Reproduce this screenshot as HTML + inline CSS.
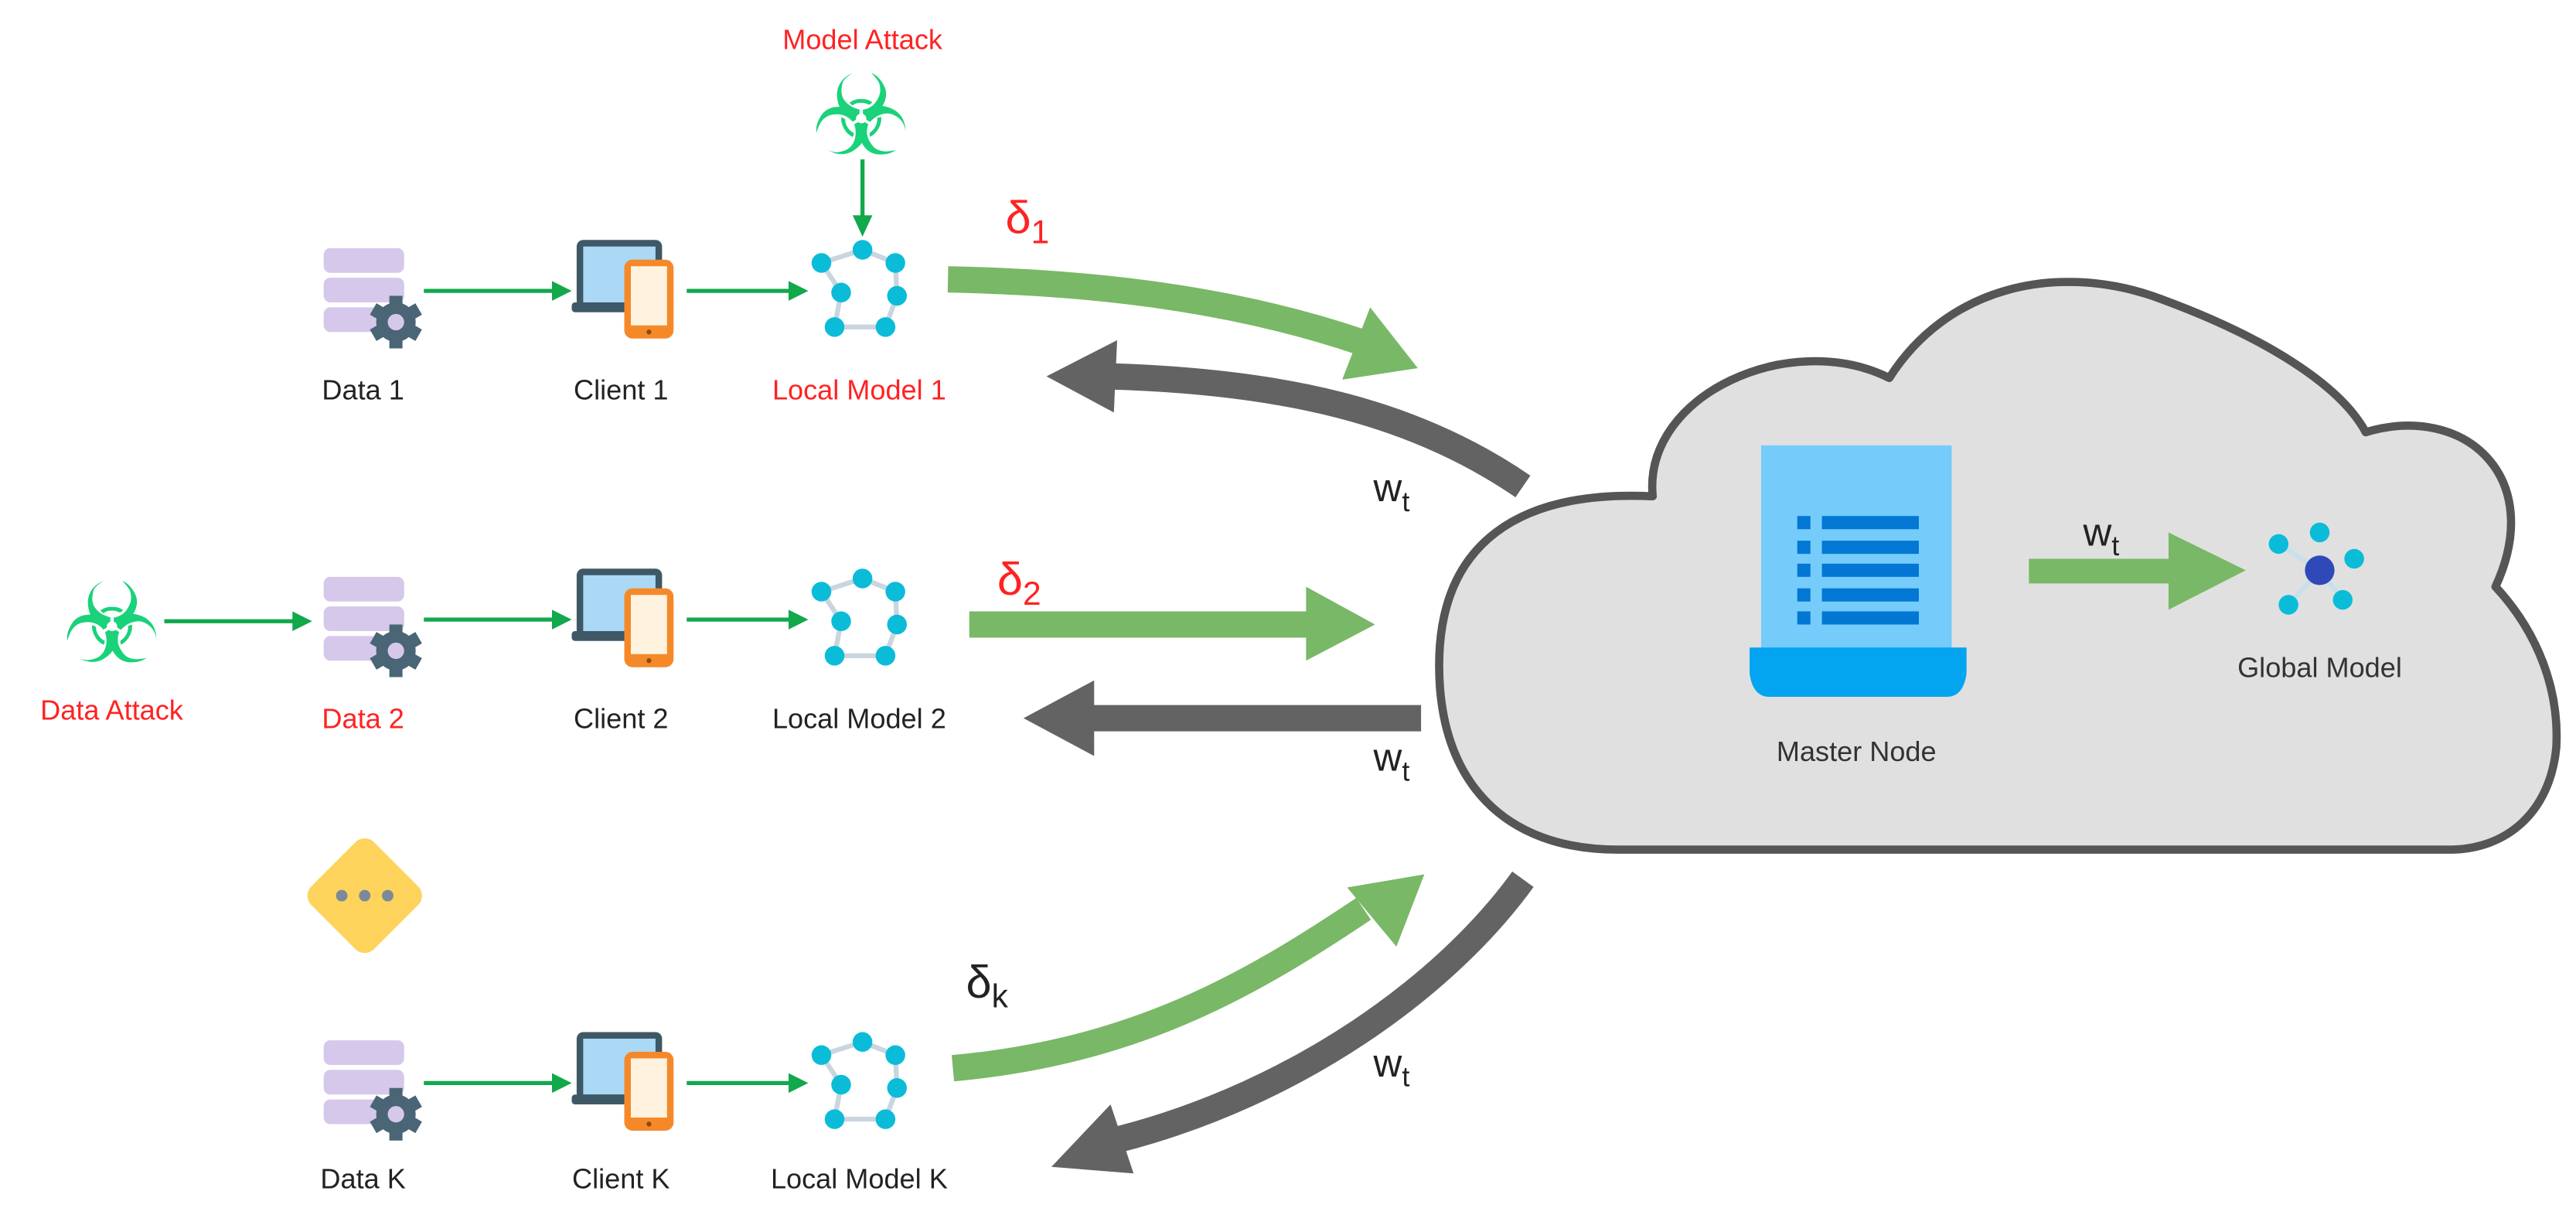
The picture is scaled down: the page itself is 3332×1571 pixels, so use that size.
<!DOCTYPE html>
<html><head><meta charset="utf-8"><style>
html,body{margin:0;padding:0;background:#fff;}
svg{display:block;}
text{font-family:"Liberation Sans","DejaVu Sans",sans-serif;}
</style></head><body>
<svg width="3332" height="1571" viewBox="0 0 1568 739.3" xmlns="http://www.w3.org/2000/svg">
<defs>
 <g id="data">
  <rect x="-25" y="-27" width="49" height="15" rx="4" fill="#d6c8ea"/>
  <rect x="-25" y="-9" width="49" height="15" rx="4" fill="#d6c8ea"/>
  <rect x="-25" y="9" width="49" height="15" rx="4" fill="#d6c8ea"/>
  <g transform="translate(19,18)" fill="#4a6575">
   <circle r="12"/>
   <rect x="-4" y="-16" width="8" height="32"/>
   <rect x="-4" y="-16" width="8" height="32" transform="rotate(60)"/>
   <rect x="-4" y="-16" width="8" height="32" transform="rotate(120)"/>
   <circle r="5" fill="#d6c8ea"/>
  </g>
 </g>
 <g id="client">
  <rect x="-27" y="-32" width="52" height="41" rx="4" fill="#3f5866"/>
  <rect x="-23" y="-28" width="44" height="34" fill="#aad8f5"/>
  <rect x="-30" y="6" width="55" height="6" rx="2" fill="#3f5866"/>
  <rect x="2" y="-20" width="30" height="48" rx="5" fill="#f5892a"/>
  <rect x="6" y="-16" width="22" height="36" fill="#fff3e0"/>
  <circle cx="17" cy="24" r="1.5" fill="#8a4a10"/>
 </g>
 <g id="model">
  <g stroke="#c9d6e0" stroke-width="3" fill="none">
   <polyline points="-23,-18 2,-26 22,-18 23,2 16,21 -15,21 -11,0 -23,-18"/>
  </g>
  <g fill="#0bbcd8">
   <circle cx="2" cy="-26" r="6"/><circle cx="-23" cy="-18" r="6"/><circle cx="22" cy="-18" r="6"/>
   <circle cx="-11" cy="0" r="6"/><circle cx="23" cy="2" r="6"/><circle cx="-15" cy="21" r="6"/><circle cx="16" cy="21" r="6"/>
  </g>
 </g>
</defs>

<!-- cloud -->
<path d="M985 517 C 915 517 876 475 876 405 C 876 330 925 298 1006 302 C 1000 240 1090 200 1150 230 C 1185 175 1250 160 1310 180 C 1380 205 1425 235 1440 263 C 1500 245 1550 290 1519 357 C 1545 385 1558 420 1556 455 C 1552 495 1525 517 1491 517 Z" fill="#e0e0e0" stroke="#555" stroke-width="5" stroke-linejoin="round"/>

<!-- master node -->
<rect x="1072" y="271" width="116" height="124" fill="#75cbfa"/>
<path d="M1065 394 L1197 394 L1197 410 Q1195 424 1185 424 L1077 424 Q1067 424 1065 410 Z" fill="#03a4f0"/>
<g fill="#0277d4">
 <rect x="1094" y="314" width="8" height="8"/><rect x="1109" y="314" width="59" height="8"/>
 <rect x="1094" y="329" width="8" height="8"/><rect x="1109" y="329" width="59" height="8"/>
 <rect x="1094" y="343" width="8" height="8"/><rect x="1109" y="343" width="59" height="8"/>
 <rect x="1094" y="358" width="8" height="8"/><rect x="1109" y="358" width="59" height="8"/>
 <rect x="1094" y="372" width="8" height="8"/><rect x="1109" y="372" width="59" height="8"/>
</g>
<text x="1130" y="463" font-size="17" fill="#333" text-anchor="middle">Master Node</text>
<rect x="1235" y="340" width="86" height="15" fill="#79b866"/>
<polygon points="1320,324 1367,347 1320,371" fill="#79b866"/>
<text x="1268" y="332" font-size="24" fill="#222">w<tspan font-size="17" dy="6">t</tspan></text>
<g stroke="#c9e0ec" stroke-width="3">
 <line x1="1412" y1="347" x2="1387" y2="331"/><line x1="1412" y1="347" x2="1426" y2="365"/><line x1="1412" y1="347" x2="1393" y2="368"/>
</g>
<g fill="#0bbcd8">
 <circle cx="1412" cy="324" r="6"/><circle cx="1387" cy="331" r="6"/><circle cx="1433" cy="340" r="6"/><circle cx="1393" cy="368" r="6"/><circle cx="1426" cy="365" r="6"/>
</g>
<circle cx="1412" cy="347" r="9" fill="#2f49b8"/>
<text x="1412" y="412" font-size="17" fill="#333" text-anchor="middle">Global Model</text>

<!-- model attack -->
<text x="525" y="30" font-size="17" fill="#f22" text-anchor="middle">Model Attack</text>
<text x="524" y="94" font-size="68" fill="#19d27a" text-anchor="middle">☣</text>
<line x1="525" y1="97" x2="525" y2="133" stroke="#12a84c" stroke-width="2.5"/>
<polygon points="519,131 531,131 525,144" fill="#12a84c"/>

<!-- row 1 -->
<use href="#data" x="222" y="178"/>
<use href="#client" x="378" y="178"/>
<use href="#model" x="523" y="178"/>
<g stroke="#12a84c" stroke-width="2.5"><line x1="258" y1="177" x2="338" y2="177"/><line x1="418" y1="177" x2="482" y2="177"/><line x1="100" y1="378" x2="180" y2="378"/><line x1="258" y1="377" x2="338" y2="377"/><line x1="418" y1="377" x2="482" y2="377"/><line x1="258" y1="659" x2="338" y2="659"/><line x1="418" y1="659" x2="482" y2="659"/></g>
<g fill="#12a84c">
 <polygon points="336,171 336,183 348,177"/><polygon points="480,171 480,183 492,177"/>
 <polygon points="178,372 178,384 190,378"/><polygon points="336,371 336,383 348,377"/><polygon points="480,371 480,383 492,377"/>
 <polygon points="336,653 336,665 348,659"/><polygon points="480,653 480,665 492,659"/>
</g>
<text x="221" y="243" font-size="17" fill="#222" text-anchor="middle">Data 1</text>
<text x="378" y="243" font-size="17" fill="#222" text-anchor="middle">Client 1</text>
<text x="523" y="243" font-size="17" fill="#f22" text-anchor="middle">Local Model 1</text>

<!-- row 2 -->
<text x="68" y="403" font-size="68" fill="#19d27a" text-anchor="middle">☣</text>
<text x="68" y="438" font-size="17" fill="#f22" text-anchor="middle">Data Attack</text>
<use href="#data" x="222" y="378"/>
<use href="#client" x="378" y="378"/>
<use href="#model" x="523" y="378"/>
<text x="221" y="443" font-size="17" fill="#f22" text-anchor="middle">Data 2</text>
<text x="378" y="443" font-size="17" fill="#222" text-anchor="middle">Client 2</text>
<text x="523" y="443" font-size="17" fill="#222" text-anchor="middle">Local Model 2</text>

<!-- dots -->
<rect x="195" y="518" width="54" height="54" rx="8" fill="#fdd35c" transform="rotate(45 222 545)"/>
<g fill="#7a8a99"><circle cx="208" cy="545" r="3.5"/><circle cx="222" cy="545" r="3.5"/><circle cx="236" cy="545" r="3.5"/></g>

<!-- row K -->
<use href="#data" x="222" y="660"/>
<use href="#client" x="378" y="660"/>
<use href="#model" x="523" y="660"/>
<text x="221" y="723" font-size="17" fill="#222" text-anchor="middle">Data K</text>
<text x="378" y="723" font-size="17" fill="#222" text-anchor="middle">Client K</text>
<text x="523" y="723" font-size="17" fill="#222" text-anchor="middle">Local Model K</text>

<!-- big arrows -->
<path d="M577 170 C 680 172 760 185 828 208" stroke="#79b866" stroke-width="16" fill="none"/>
<polygon points="834,187 817,231 863,224" fill="#79b866"/>
<path d="M927 296 C 860 250 780 232 675 229" stroke="#636363" stroke-width="16" fill="none"/>
<polygon points="680,207 678,251 637,229" fill="#636363"/>
<rect x="590" y="372" width="206" height="16" fill="#79b866"/>
<polygon points="795,357 795,402 837,380" fill="#79b866"/>
<rect x="664" y="429" width="201" height="16" fill="#636363"/>
<polygon points="666,414 666,460 623,437" fill="#636363"/>
<path d="M580 650 C 690 640 760 600 830 553" stroke="#79b866" stroke-width="16" fill="none"/>
<polygon points="820,540 850,576 867,532" fill="#79b866"/>
<path d="M927 535 C 880 600 790 665 682 693" stroke="#636363" stroke-width="16" fill="none"/>
<polygon points="676,672 690,714 640,710" fill="#636363"/>

<text x="612" y="142" font-size="28" fill="#f22">δ<tspan font-size="20" dy="6">1</tspan></text>
<text x="607" y="362" font-size="28" fill="#f22">δ<tspan font-size="20" dy="6">2</tspan></text>
<text x="588" y="607" font-size="28" fill="#222">δ<tspan font-size="20" dy="6">k</tspan></text>
<text x="836" y="305" font-size="24" fill="#222">w<tspan font-size="17" dy="6">t</tspan></text>
<text x="836" y="469" font-size="24" fill="#222">w<tspan font-size="17" dy="6">t</tspan></text>
<text x="836" y="655" font-size="24" fill="#222">w<tspan font-size="17" dy="6">t</tspan></text>
</svg>
</body></html>
